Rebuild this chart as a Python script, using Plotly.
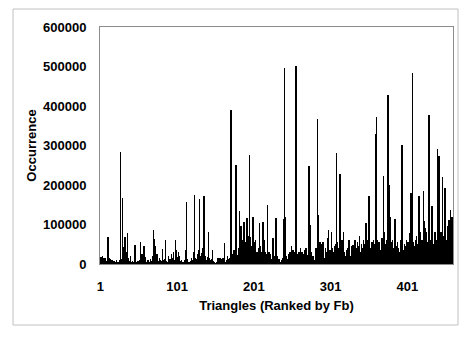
import plotly.graph_objects as go

# Occurrence values (in thousands) for triangles ranked 1..460
occ_k = [
    15, 18, 12, 20, 14, 10, 16, 12, 8, 11, 69, 14, 9, 12, 7, 10, 6, 5, 8, 6,
    4, 9, 5, 3, 6, 10, 284, 12, 8, 167, 43, 25, 69, 60, 30, 79, 15, 8, 6, 20,
    5, 3, 8, 4, 6, 48, 12, 5, 3, 7, 4, 10, 56, 14, 25, 8, 5, 46, 12, 18,
    6, 4, 9, 3, 5, 12, 7, 4, 20, 85, 64, 46, 22, 10, 25, 8, 6, 15, 9, 4,
    7, 37, 10, 5, 12, 61, 8, 6, 4, 20, 9, 12, 7, 25, 15, 30, 10, 8, 61, 35,
    12, 18, 30, 20, 8, 5, 9, 3, 4, 6, 10, 35, 158, 12, 5, 3, 6, 4, 8, 15,
    10, 22, 30, 175, 15, 8, 12, 25, 35, 165, 20, 10, 28, 40, 15, 171, 12, 20, 8, 10,
    18, 80, 15, 10, 6, 12, 36, 8, 5, 4, 2, 3, 2, 15, 12, 10, 14, 13, 11, 12,
    14, 8, 54, 3, 5, 10, 20, 12, 8, 15, 391, 133, 25, 15, 35, 30, 20, 251, 15, 22,
    40, 133, 50, 95, 30, 50, 60, 107, 45, 40, 55, 116, 50, 70, 275, 69, 45, 30, 40, 118,
    35, 55, 60, 25, 30, 20, 40, 105, 15, 45, 30, 25, 107, 40, 60, 30, 25, 15, 150, 30,
    30, 25, 20, 12, 18, 65, 20, 15, 10, 116, 20, 8, 5, 12, 6, 4, 10, 8, 15, 115,
    495, 120, 20, 8, 12, 25, 18, 30, 10, 45, 15, 35, 20, 30, 79, 501, 15, 25, 10, 30,
    20, 40, 15, 30, 25, 20, 35, 10, 40, 22, 20, 95, 247, 100, 95, 30, 12, 20, 15, 10,
    25, 40, 15, 367, 125, 50, 55, 30, 50, 20, 55, 25, 15, 40, 30, 20, 65, 86, 25, 35,
    20, 82, 40, 30, 25, 45, 35, 50, 280, 55, 30, 40, 229, 25, 45, 60, 35, 82, 30, 20,
    15, 35, 40, 25, 61, 20, 15, 45, 30, 48, 20, 35, 60, 25, 40, 55, 30, 45, 71, 30,
    50, 40, 35, 60, 45, 50, 103, 40, 60, 35, 171, 50, 40, 30, 55, 45, 60, 50, 40, 328,
    373, 60, 45, 55, 40, 35, 50, 65, 45, 222, 80, 50, 40, 60, 35, 429, 70, 200, 120, 55,
    45, 60, 40, 50, 113, 45, 35, 55, 40, 25, 30, 45, 60, 302, 40, 35, 50, 30, 45, 60,
    40, 55, 35, 78, 50, 180, 60, 484, 55, 45, 40, 60, 70, 50, 35, 173, 55, 80, 45, 60,
    50, 184, 110, 90, 60, 80, 50, 55, 376, 90, 50, 60, 146, 70, 45, 50, 80, 55, 60, 290,
    70, 273, 55, 60, 80, 50, 220, 70, 65, 192, 167, 60, 95, 75, 112, 80, 137, 107, 120, 100,
]
occurrence = [v * 1000 for v in occ_k]
ranks = list(range(1, len(occurrence) + 1))

x_tickvals = [1, 101, 201, 301, 401]
x_ticktext = ["1", "101", "201", "301", "401"]
y_tickvals = [0, 100000, 200000, 300000, 400000, 500000, 600000]
y_ticktext = ["0", "100000", "200000", "300000", "400000", "500000", "600000"]

FONT = "Liberation Sans, Arial, sans-serif"

fig = go.Figure(
    go.Bar(
        x=ranks,
        y=occurrence,
        marker=dict(color="#000000", line=dict(width=0)),
        width=0.6,
    )
)

W, H = 474, 340
L, R, T, B = 100, 21, 27, 76
pw, ph = W - L - R, H - T - B

fig.update_layout(
    width=W,
    height=H,
    margin=dict(l=L, r=R, t=T, b=B),
    paper_bgcolor="white",
    plot_bgcolor="white",
    showlegend=False,
    bargap=0,
    font=dict(family=FONT, size=13, color="black"),
    xaxis=dict(
        range=[0.5, len(occurrence) + 0.5],
        tickmode="array",
        tickvals=x_tickvals,
        ticktext=x_ticktext,
        ticks="",
        showgrid=False,
        zeroline=False,
        showline=True,
        linecolor="#8c8c8c",
        linewidth=1,
        mirror=True,
        tickfont=dict(family=FONT, size=13, color="black", weight="bold"),
        ticklabelstandoff=10,
        title=dict(
            text="<b>Triangles (Ranked by Fb)</b>",
            font=dict(family=FONT, size=13, color="black"),
            standoff=8,
        ),
    ),
    yaxis=dict(
        range=[0, 600000],
        tickmode="array",
        tickvals=y_tickvals,
        ticktext=y_ticktext,
        ticks="",
        showgrid=False,
        zeroline=False,
        showline=True,
        linecolor="#8c8c8c",
        linewidth=1,
        mirror=True,
        tickfont=dict(family=FONT, size=13, color="black", weight="bold"),
        ticklabelstandoff=10,
        title=dict(
            text="<b>Occurrence</b>",
            font=dict(family=FONT, size=13, color="black"),
            standoff=3,
        ),
    ),
)

# outer chart-area border
fig.add_shape(
    type="rect",
    xref="paper", yref="paper",
    x0=(13 - L) / pw, x1=(458 - L) / pw,
    y0=(T + ph - 325) / ph, y1=(T + ph - 9) / ph,
    line=dict(color="#c0c0c0", width=1),
    fillcolor="rgba(0,0,0,0)",
    layer="below",
)

fig.write_html("out.html")
